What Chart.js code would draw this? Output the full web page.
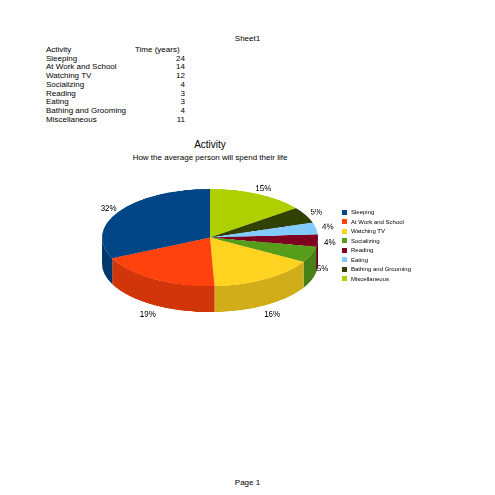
<!DOCTYPE html>
<html>
<head>
<meta charset="utf-8">
<script src="https://cdn.jsdelivr.net/npm/chart.js@4"></script>
<style>
  body { margin: 0; width: 495px; height: 495px; background: #fff; position: relative; font-family: "Liberation Sans", Arial, sans-serif; color: #000; overflow: hidden; }
  .abs { position: absolute; }
  #sheet { left: 0; width: 495px; top: 34px; text-align: center; font-size: 8px; }
  #tbl { left: 46px; top: 46px; font-size: 8px; line-height: 8.7px; border-collapse: collapse; table-layout: fixed; width: 139px; }
  #tbl td { padding: 0; white-space: nowrap; }
  #tbl td.a { width: 89px; }
  #tbl td.v { text-align: right; width: 50px; }
  #title { left: 0; width: 420px; top: 139px; text-align: center; font-size: 10px; }
  #sub { left: 0; width: 420px; top: 153px; text-align: center; font-size: 8px; }
  #wrap { left: 60px; top: 170px; width: 300px; height: 400px; transform: scaleY(0.45); transform-origin: top left; }
  #legend { left: 342px; top: 208px; font-size: 6px; line-height: 9.5px; }
  #legend span.sw { display: inline-block; width: 5px; height: 5px; margin-right: 4px; vertical-align: -0.5px; }
  #page { left: 0; width: 495px; top: 478px; text-align: center; font-size: 8px; }
</style>
</head>
<body>
<div id="sheet" class="abs">Sheet1</div>
<table id="tbl" class="abs"></table>
<div id="title" class="abs">Activity</div>
<div id="sub" class="abs">How the average person will spend their life</div>
<div id="wrap" class="abs"><canvas id="pie" width="300" height="400"></canvas></div>
<div id="legend" class="abs"></div>
<div id="page" class="abs">Page 1</div>
<script>
const activities = ["Sleeping", "At Work and School", "Watching TV", "Socializing", "Reading", "Eating", "Bathing and Grooming", "Miscellaneous"];
const years = [24, 14, 12, 4, 3, 3, 4, 11];
const colors = ["#004586", "#ff420e", "#ffd320", "#579d1c", "#7e0021", "#83caff", "#314004", "#aecf00"];

const tbl = document.getElementById("tbl");
tbl.innerHTML = "<tr><td class='a'>Activity</td><td style='text-align:left'>Time (years)</td></tr>" +
  activities.map((a, i) => "<tr><td class='a'>" + a + "</td><td class='v'>" + years[i] + "</td></tr>").join("");

document.getElementById("legend").innerHTML = activities
  .map((a, i) => "<div><span class='sw' style='background:" + colors[i] + "'></span>" + a + "</div>")
  .join("");

// pie is drawn counter-clockwise in the reference, so feed it reversed
const revLabels = activities.slice().reverse();
const revYears = years.slice().reverse();
const revColors = colors.slice().reverse();
const total = years.reduce((s, v) => s + v, 0);
const SY = 0.45;

const pctLabels = {
  id: "pctLabels",
  afterDatasetsDraw(chart) {
    const ctx = chart.ctx;
    const meta = chart.getDatasetMeta(0);
    ctx.save();
    ctx.font = "8px 'Liberation Sans', Arial, sans-serif";
    ctx.fillStyle = "#000";
    ctx.textAlign = "center";
    ctx.textBaseline = "middle";
    meta.data.forEach((arc, i) => {
      const mid = (arc.startAngle + arc.endAngle) / 2;
      const r = arc.outerRadius + 12;
      let x = arc.x + Math.cos(mid) * r;
      let y = arc.y + Math.sin(mid) * r;
      if (Math.sin(mid) > 0) y += 36 / SY * Math.sin(mid);
      ctx.save();
      ctx.translate(x, y);
      ctx.scale(1, 1 / SY);
      ctx.fillText(Math.round(revYears[i] / total * 100) + "%", 0, 0);
      ctx.restore();
    });
    ctx.restore();
  },
  beforeDatasetsDraw(chart) {
    // side wall of the 3D pie
    const ctx = chart.ctx;
    const meta = chart.getDatasetMeta(0);
    const depth = 26 / SY;
    ctx.save();
    meta.data.forEach((arc, i) => {
      for (let k = 0; k < 2; k++) {
        const lo = Math.max(arc.startAngle, k * 2 * Math.PI), hi = Math.min(arc.endAngle, k * 2 * Math.PI + Math.PI);
        if (hi <= lo) continue;
        ctx.beginPath();
        ctx.arc(arc.x, arc.y, arc.outerRadius, lo, hi);
        ctx.arc(arc.x, arc.y + depth, arc.outerRadius, hi, lo, true);
        ctx.closePath();
        ctx.fillStyle = revColors[i];
        ctx.fill();
        ctx.fillStyle = "rgba(0,0,0,0.18)";
        ctx.fill();
      }
    });
    ctx.restore();
  }
};

new Chart(document.getElementById("pie"), {
  type: "pie",
  data: {
    labels: revLabels,
    datasets: [{ data: revYears, backgroundColor: revColors, borderWidth: 0 }]
  },
  options: {
    responsive: false,
    animation: false,
    layout: { padding: { left: 42, right: 42, top: 42, bottom: 142 } },
    plugins: { legend: { display: false }, tooltip: { enabled: false } }
  },
  plugins: [pctLabels]
});
</script>
</body>
</html>
